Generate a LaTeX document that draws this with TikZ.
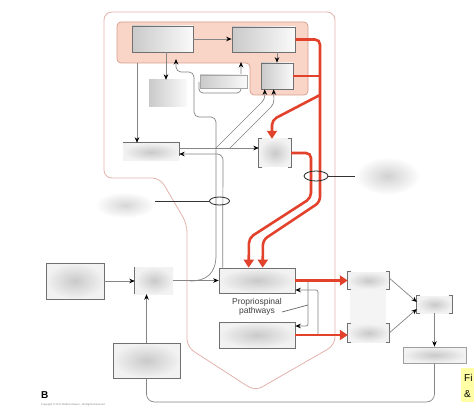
\documentclass[tikz,border=0pt]{standalone}
\usepackage{fontspec}
\setmainfont{Liberation Sans}
\usetikzlibrary{arrows.meta,shapes.geometric,calc}
\definecolor{redc}{HTML}{E2412C}
\definecolor{pinkf}{HTML}{F9D5C8}
\definecolor{pinkd}{HTML}{D99C8C}
\definecolor{outerc}{HTML}{E3B3AB}
\definecolor{lgray}{HTML}{858585}
\definecolor{bgray}{HTML}{707070}
\definecolor{yel}{HTML}{FFFFA6}
\newcommand{\mybrackets}[1]{%
  \draw[bgray, line width=0.7pt] ([xshift=3pt]#1.north west) -- (#1.north west) -- (#1.south west) -- ([xshift=3pt]#1.south west);
  \draw[bgray, line width=0.7pt] ([xshift=-3pt]#1.north east) -- (#1.north east) -- (#1.south east) -- ([xshift=-3pt]#1.south east);}
\tikzset{
  bx/.style={draw=bgray, line width=0.7pt, inner sep=0pt},
  nb/.style={draw=none, inner sep=0pt},
  blur/.style={shading=radial, inner color=gray!42, outer color=gray!10},
  grad/.style={left color=gray!42, right color=gray!4},
  ln/.style={draw=lgray, line width=0.7pt},
  arr/.style={ln, -{Stealth[length=5.5pt,width=4.5pt,color=black]}},
  rd/.style={draw=redc, line width=2.6pt, rounded corners=5pt},
  rarr/.style={rd, -{Triangle[length=8pt,width=10pt]}},
  ell/.style={ellipse, draw=black!85, line width=0.8pt, inner sep=0pt},
}
\begin{document}
\begin{tikzpicture}[x=1pt,y=-1pt]
\useasboundingbox (0,0) rectangle (474,417);
\fill[white] (0,0) rectangle (474,417);

% outer border
\draw[outerc, line width=0.8pt, rounded corners=8pt]
  (104,12) -- (104,178) -- (160,178) -- (187,224) -- (187,347) -- (255,391) -- (335,345) -- (335,12) -- cycle;
% pink region
\draw[pinkd, fill=pinkf, line width=0.7pt, rounded corners=4pt]
  (117,22) -- (308,22) -- (308,95) -- (250,95) -- (250,63) -- (117,63) -- cycle;

% named coordinates
\coordinate (a1) at (176,59);
\coordinate (e0) at (199,82);
\coordinate (e1) at (241,62);
\coordinate (p1) at (137,63);
\coordinate (m1) at (190,281);
\coordinate (d1) at (216,148);
\coordinate (d2) at (230,148);
\coordinate (h1) at (308,282);
\coordinate (l1) at (318,334);
\coordinate (j1) at (320,95);
\coordinate (pt1) at (282,312);
\coordinate (pt2) at (308,305);

% gray connectors drawn below boxes
\draw[arr, rounded corners=4pt] (e0) -- (199,93) -- (241,93) -- (e1);
\draw[arr] (m1) .. controls (206,281) and (216,274) .. (216,255)
  [rounded corners=5pt] -- (216,117) -- (194,117) -- (194,72) -- (176,72) -- (a1);

% boxes
\node[bx, grad, minimum width=61pt, minimum height=26pt] (A) at (162.5,39) {};
\node[bx, grad, minimum width=63pt, minimum height=25pt] (B) at (263.5,39.5) {};
\node[bx, grad, minimum width=32pt, minimum height=26pt] (C) at (277,76) {};
\node[nb, grad, minimum width=38pt, minimum height=27pt] (D) at (168,93.5) {};
\node[bx, draw=gray!70, grad, minimum width=47pt, minimum height=13pt] (E) at (223.5,81.5) {};
\node[nb, blur, minimum width=56pt, minimum height=18pt] (F) at (151,152) {};
\draw[bgray, line width=0.6pt] (F.north west) -- (F.north east) -- ([yshift=-4pt]F.east);
\node[nb, blur, minimum width=32pt, minimum height=28pt] (G) at (275,153) {};
\mybrackets{G}
\node[bx, blur, minimum width=76pt, minimum height=25pt] (H) at (257,280.5) {};
\node[bx, blur, minimum width=76pt, minimum height=26pt] (L) at (257,335) {};
\node[bx, blur, minimum width=58pt, minimum height=36pt] (I) at (75,281) {};
\node[nb, blur, minimum width=38pt, minimum height=27pt] (J) at (154,280.5) {};
\draw[bgray, line width=0.7pt] (J.north west) -- (J.south west);
\node[bx, blur, minimum width=67pt, minimum height=35pt] (K) at (146.5,360.5) {};
\fill[gray!9] (350,286) rectangle (386,326);
\node[nb, blur, minimum width=41pt, minimum height=17pt] (N) at (368.5,280.5) {};
\node[nb, blur, minimum width=41pt, minimum height=18pt] (O) at (368.5,333) {};
\mybrackets{N}
\mybrackets{O}
\node[nb, blur, minimum width=35pt, minimum height=17pt] (P) at (434.5,304.5) {};
\mybrackets{P}
\node[bx, draw=gray!75, blur, minimum width=63pt, minimum height=16pt] (M) at (434.5,355) {};
\node[nb, shading=radial, inner color=gray!32, outer color=white, minimum width=60pt, minimum height=26pt] (LB) at (125,205) {};
\node[nb, shading=radial, inner color=gray!36, outer color=white, minimum width=65pt, minimum height=38pt] (RB) at (387.5,176) {};

% gray connectors
\draw[arr] ([xshift=3.5pt]A.south) -- ([xshift=-2pt]D.north);
\draw[arr] (A.east) -- (A.east -| B.west);
\draw[arr] (C.north |- B.south) -- (C.north);
\draw[arr] (p1) -- (p1 |- F.north);
\draw[arr, rounded corners=6pt] ([xshift=4pt]H.north west) -- (223,154) -- ([yshift=-2pt]F.east);
\draw[arr] ([yshift=4pt]F.east) -- ([yshift=4pt]F.east -| G.west);
\draw[arr, rounded corners=4pt] (d1) -- (265,99) -- ([xshift=4pt]C.south west);
\draw[arr, rounded corners=4pt] (d2) -- (274,104) -- ([xshift=13pt]C.south west);
\draw[arr] (I.east) -- (I.east -| J.west);
\draw[arr] (J.east) -- (J.east -| H.west);
\draw[arr] (K.north) -- (K.north |- J.south);
\draw[ln, rounded corners=8pt] (K.south) -- (146.5,402) -- (434.5,402) -- (M.south);
\draw[arr, rounded corners=2pt] (h1) -- (308,326) -- ([yshift=9pt]L.east);
\draw[arr, rounded corners=2pt] (l1) -- (318,290) -- ([yshift=-9.5pt]H.east);
\draw[arr] ([yshift=2.5pt]N.east) -- ([yshift=2.5pt]P.west);
\draw[arr] (O.east) -- ([yshift=-4.5pt]P.west);
\draw[arr] (P.south) -- (M.north);

% red pathways
\draw[rarr] (B.east) -- (320,39.5) -- (320,202) -- (263,240) -- ([xshift=44pt]H.north west);
\draw[rd] (C.east) -- (320,76);
\draw[rarr] (j1) -- (272,120) -- ([xshift=-3pt]G.north);
\draw[rarr] (G.east) -- (311,153) -- (311,198) -- (249,238) -- ([xshift=30pt]H.north west);
\draw[rarr] (H.east) -- (H.east -| N.west);
\draw[rarr] (L.east) -- (L.east -| O.west);

% ellipses and their label lines
\node[ell, minimum width=20pt, minimum height=8pt] (el1) at (219.5,201) {};
\node[ell, minimum width=24pt, minimum height=10pt] (el2) at (316,176) {};
\draw[black!80, line width=0.8pt] ([yshift=4pt]LB.east) -- (el1.west);
\draw[black!80, line width=0.8pt] (el2.east) -- (RB.west);

% text
\node[font=\fontsize{8.5}{9.5}\selectfont, text=black!75, align=center] (pp) at (257,307) {Propriospinal\\pathways};
\draw[ln, draw=black!60] (pt1) -- (pt2);
\node[font=\bfseries\fontsize{10}{10}\selectfont, anchor=south west, inner sep=0pt] (lbB) at (41,399) {B};
\node[font=\fontsize{2.6}{3}\selectfont, text=gray, anchor=west, inner sep=0pt] (cpy) at (41,405) {Copyright © 2017 Wolters Kluwer · All Rights Reserved};

% yellow note
\node[fill=yel, anchor=north west, minimum width=20pt, minimum height=34pt, inner sep=0pt] (note) at (461,368) {};
\node[font=\fontsize{10}{10}\selectfont, anchor=west, inner sep=0pt] (n1) at (464,378) {Fi};
\node[font=\fontsize{10}{10}\selectfont, anchor=west, inner sep=0pt] (n2) at (464,394) {\&};
\end{tikzpicture}
\end{document}
